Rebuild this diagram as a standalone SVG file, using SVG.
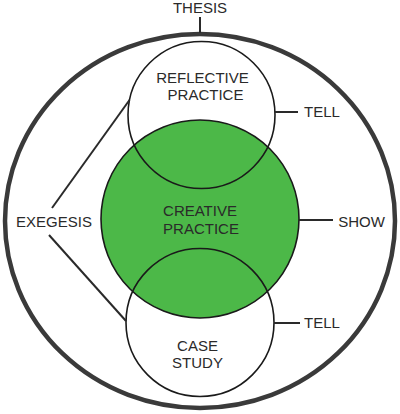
<svg xmlns="http://www.w3.org/2000/svg" width="400" height="414" viewBox="0 0 400 414">
<style>
text{font-family:"Liberation Sans",Arial,sans-serif;font-size:15px;fill:#2a2a2a;text-anchor:middle}
.thin{fill:none;stroke:#1a1a1a;stroke-width:1.6}
.conn{fill:none;stroke:#2a2a2a;stroke-width:2}
</style>
<rect width="400" height="414" fill="#ffffff"/>
<g id="thesis">
<ellipse cx="200" cy="221" rx="195" ry="187" fill="#ffffff" stroke="#3a3a3a" stroke-width="4.5"/>
<text x="200" y="13">THESIS</text>
</g>
<g id="creative-practice">
<circle cx="200" cy="219" r="99" fill="#4cb848" stroke="#1a1a1a" stroke-width="1.6"/>
<text x="200" y="216" fill="#111">CREATIVE</text>
<text x="201" y="234" fill="#111">PRACTICE</text>
</g>
<g id="reflective-practice">
<circle class="thin" cx="201.5" cy="115" r="73.5"/>
<text x="202.5" y="83">REFLECTIVE</text>
<text x="205.5" y="100">PRACTICE</text>
</g>
<g id="case-study">
<circle class="thin" cx="200" cy="322.5" r="74"/>
<text x="197.5" y="351">CASE</text>
<text x="197.5" y="368">STUDY</text>
</g>
<g id="exegesis">
<text x="54" y="227">EXEGESIS</text>
</g>
<g id="tell-top"><text x="322" y="117">TELL</text></g>
<g id="show"><text x="361.5" y="227">SHOW</text></g>
<g id="tell-bottom"><text x="322" y="328">TELL</text></g>
<g id="connectors">
<line class="conn" x1="200" y1="17" x2="200" y2="33" stroke-width="2.5"/>
<line class="conn" x1="275" y1="112" x2="298" y2="112"/>
<line class="conn" x1="299" y1="220" x2="333" y2="220"/>
<line class="conn" x1="274" y1="323" x2="300" y2="323"/>
<line class="conn" x1="129.5" y1="100" x2="52" y2="208"/>
<line class="conn" x1="49" y1="235" x2="126" y2="321"/>
</g>
</svg>
